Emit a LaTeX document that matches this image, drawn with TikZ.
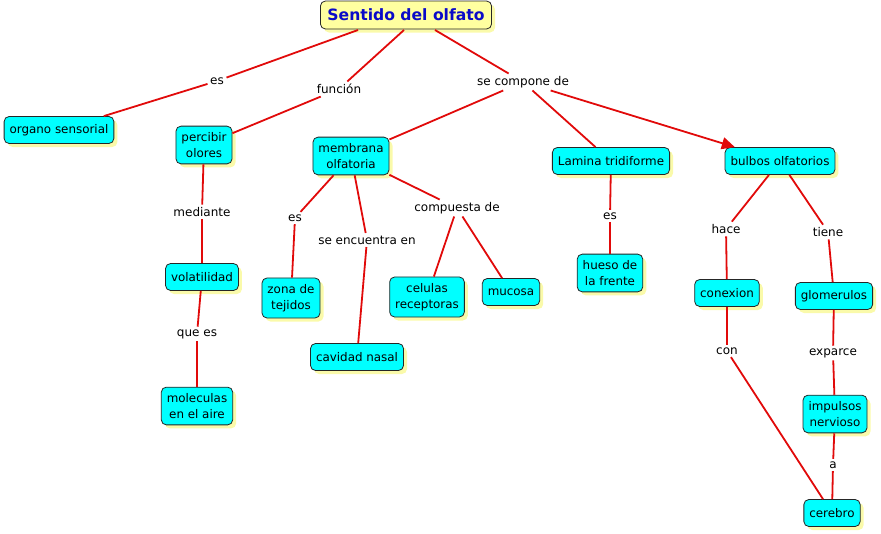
\documentclass[tikz,border=0pt]{standalone}
\usepackage{fontspec}
\setmainfont{DejaVu Sans}
\usetikzlibrary{shadows,arrows.meta}
\definecolor{conc}{RGB}{0,255,255}
\definecolor{titlefill}{RGB}{255,255,160}
\definecolor{shade}{RGB}{250,250,170}
\definecolor{linkred}{RGB}{225,10,10}
\definecolor{titleblue}{RGB}{10,10,200}
\tikzset{
  concept/.style={draw=black!85, line width=0.8pt, fill=conc, rounded corners=5pt,
    align=center, inner xsep=5.5pt, inner ysep=6.5pt, minimum height=27pt,
    font=\fontsize{11.9}{15.5}\selectfont,
    drop shadow={shadow xshift=3.5pt, shadow yshift=-3.5pt, fill=shade, opacity=1}},
  titlebox/.style={concept, fill=titlefill, font=\fontsize{15.6}{18}\selectfont\bfseries,
    text=titleblue, inner xsep=7pt, inner ysep=4pt, minimum height=28pt},
  linklabel/.style={inner sep=2.5pt, font=\fontsize{12}{14}\selectfont},
  link/.style={draw=linkred, line width=1.8pt},
}
\begin{document}
\begin{tikzpicture}[x=1pt,y=-1pt]
\useasboundingbox (0,0) rectangle (881,533);
% points on the lower edge of the title where its three links leave
\coordinate (t1) at (358,30);
\coordinate (t2) at (404,30);
\coordinate (t3) at (435,30);
% linking phrases
\node[linklabel] (es1) at (217,81) {es};
\node[linklabel] (funcion) at (339,89) {función};
\node[linklabel] (compone) at (523,82) {se compone de};
\node[linklabel] (mediante) at (202,212) {mediante};
\node[linklabel] (quees) at (197,334) {que es};
\node[linklabel] (es2) at (295,218) {es};
\node[linklabel] (encuentra) at (367,240) {se encuentra en};
\node[linklabel] (compuesta) at (457,208) {compuesta de};
\node[linklabel] (es3) at (610,216) {es};
\node[linklabel] (hace) at (726,229) {hace};
\node[linklabel] (tiene) at (828,232) {tiene};
\node[linklabel] (con) at (727,351) {con};
\node[linklabel] (exparce) at (833,353) {exparce};
\node[linklabel] (a) at (833,465) {a};
% concepts
\node[titlebox] (title) at (406,15) {Sentido del olfato};
\node[concept] (organo) at (59,130) {organo sensorial};
\node[concept] (percibir) at (204,145) {percibir\\olores};
\node[concept] (membrana) at (351,156) {membrana\\olfatoria};
\node[concept] (lamina) at (611,161) {Lamina tridiforme};
\node[concept] (bulbos) at (780,161) {bulbos olfatorios};
\node[concept] (volat) at (202,277) {volatilidad};
\node[concept] (molec) at (197,406) {moleculas\\en el aire};
\node[concept] (zona) at (291,298) {zona de\\tejidos};
\node[concept] (cavidad) at (357,357) {cavidad nasal};
\node[concept] (celulas) at (427,297) {celulas\\receptoras};
\node[concept] (mucosa) at (511,292) {mucosa};
\node[concept] (hueso) at (610,273) {hueso de\\la frente};
\node[concept] (conexion) at (727,293) {conexion};
\node[concept] (glomer) at (834,296) {glomerulos};
\node[concept] (impulsos) at (835,414) {impulsos\\nervioso};
\node[concept] (cerebro) at (832,513) {cerebro};
% connectors
\draw[link] (t1) -- (es1);
\draw[link] (es1) -- (organo);
\draw[link] (t2) -- (funcion);
\draw[link] (funcion) -- (percibir);
\draw[link] (t3) -- (compone);
\draw[link] (compone) -- (membrana);
\draw[link] (compone) -- (lamina);
\draw[link,-{Triangle[length=13pt,width=12pt]}] (compone) -- (bulbos);
\draw[link] (percibir) -- (mediante);
\draw[link] (mediante) -- (volat);
\draw[link] (volat) -- (quees);
\draw[link] (quees) -- (molec);
\draw[link] (membrana) -- (es2);
\draw[link] (es2) -- (zona);
\draw[link] (membrana) -- (encuentra);
\draw[link] (encuentra) -- (cavidad);
\draw[link] (membrana) -- (compuesta);
\draw[link] (compuesta) -- (celulas);
\draw[link] (compuesta) -- (mucosa);
\draw[link] (lamina) -- (es3);
\draw[link] (es3) -- (hueso);
\draw[link] (bulbos) -- (hace);
\draw[link] (hace) -- (conexion);
\draw[link] (bulbos) -- (tiene);
\draw[link] (tiene) -- (glomer);
\draw[link] (conexion) -- (con);
\draw[link] (con) -- (cerebro);
\draw[link] (glomer) -- (exparce);
\draw[link] (exparce) -- (impulsos);
\draw[link] (impulsos) -- (a);
\draw[link] (a) -- (cerebro);
\end{tikzpicture}
\end{document}
